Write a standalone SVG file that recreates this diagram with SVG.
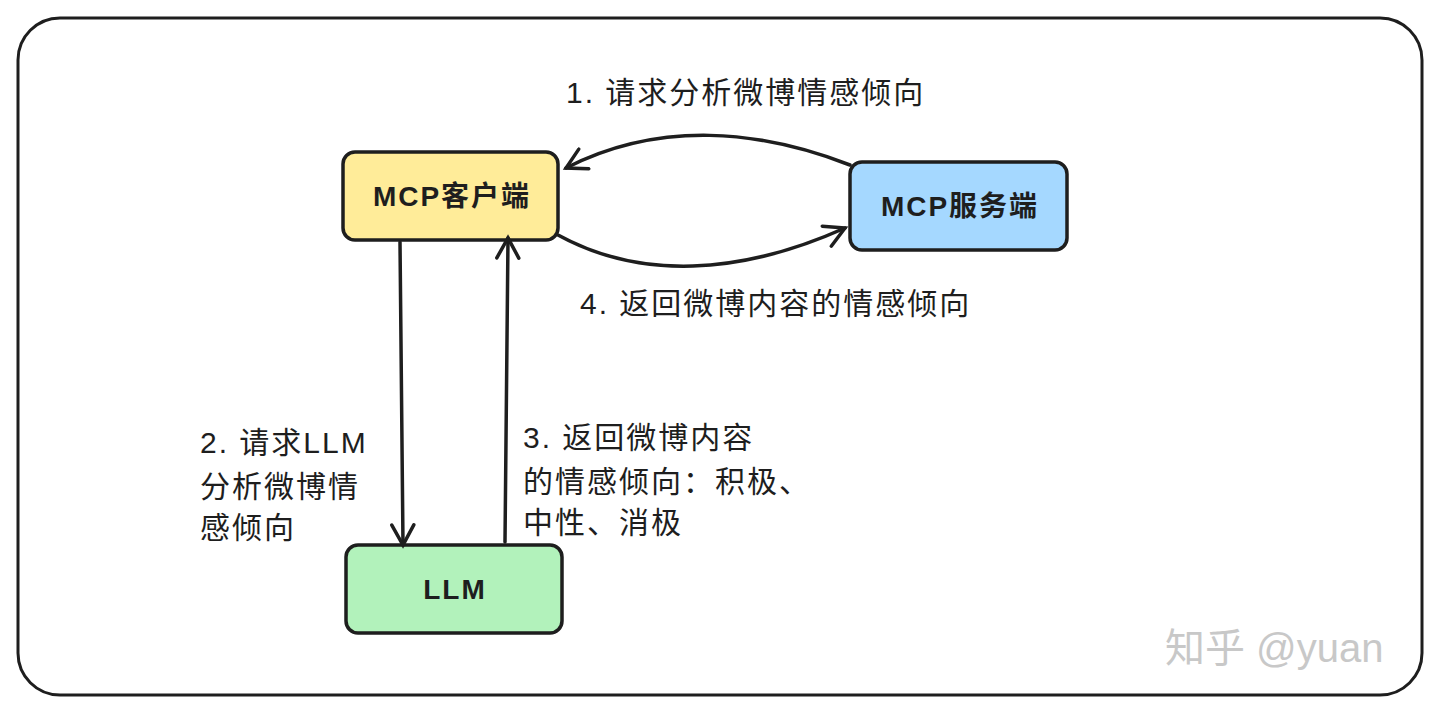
<svg xmlns="http://www.w3.org/2000/svg" width="1440" height="710" viewBox="0 0 1440 710">
<style>
.n{stroke:#1e1e1e;stroke-width:3.5}
.t{font-family:"Liberation Sans","Noto Sans CJK SC",sans-serif;font-size:30px;fill:#1e1e1e;letter-spacing:2px}
.b{font-weight:bold;font-size:28px}
.c{fill:none;stroke:#1e1e1e;stroke-width:3.5;stroke-linecap:round}
</style>
<defs><marker id="a" markerWidth="26" markerHeight="26" refX="22" refY="13" orient="auto" markerUnits="userSpaceOnUse"><path d="M2,2 L22,13 L2,24" fill="none" stroke="#1e1e1e" stroke-width="3.5" stroke-linecap="round"/></marker></defs>
<rect width="1440" height="710" fill="#fff"/>
<rect x="18" y="18" width="1404" height="677" rx="42" fill="none" stroke="#1e1e1e" stroke-width="3"/>
<g id="client"><rect class="n" x="343" y="152" width="215" height="88" rx="12" fill="#ffec99"/><text class="t b" x="452" y="206" text-anchor="middle">MCP客户端</text></g>
<g id="server"><rect class="n" x="850" y="162" width="217" height="88" rx="12" fill="#a5d8ff"/><text class="t b" x="960" y="216" text-anchor="middle">MCP服务端</text></g>
<g id="llm"><rect class="n" x="346" y="545" width="216" height="88" rx="12" fill="#b2f2bb"/><text class="t b" x="455" y="599" text-anchor="middle">LLM</text></g>
<g id="connectors">
<path class="c" d="M850,165 C760,130 660,120 566,168" marker-end="url(#a)"/>
<path class="c" d="M558,235 C640,280 740,275 845,228" marker-end="url(#a)"/>
<path class="c" d="M400,242 L403,545" marker-end="url(#a)"/>
<path class="c" d="M505,542 L508,238" marker-end="url(#a)"/>
</g>
<g class="t">
<text x="566" y="103">1. 请求分析微博情感倾向</text>
<text x="580" y="314">4. 返回微博内容的情感倾向</text>
<text x="200" y="453">2. 请求LLM</text>
<text x="200" y="497">分析微博情</text>
<text x="200" y="538">感倾向</text>
<text x="523" y="448">3. 返回微博内容</text>
<text x="523" y="492">的情感倾向：积极、</text>
<text x="523" y="533">中性、消极</text>
</g>
<text x="1165" y="662" font-family="Liberation Sans,Noto Sans CJK SC,sans-serif" font-size="40" fill="#c8c8c8">知乎 @yuan</text>
</svg>
